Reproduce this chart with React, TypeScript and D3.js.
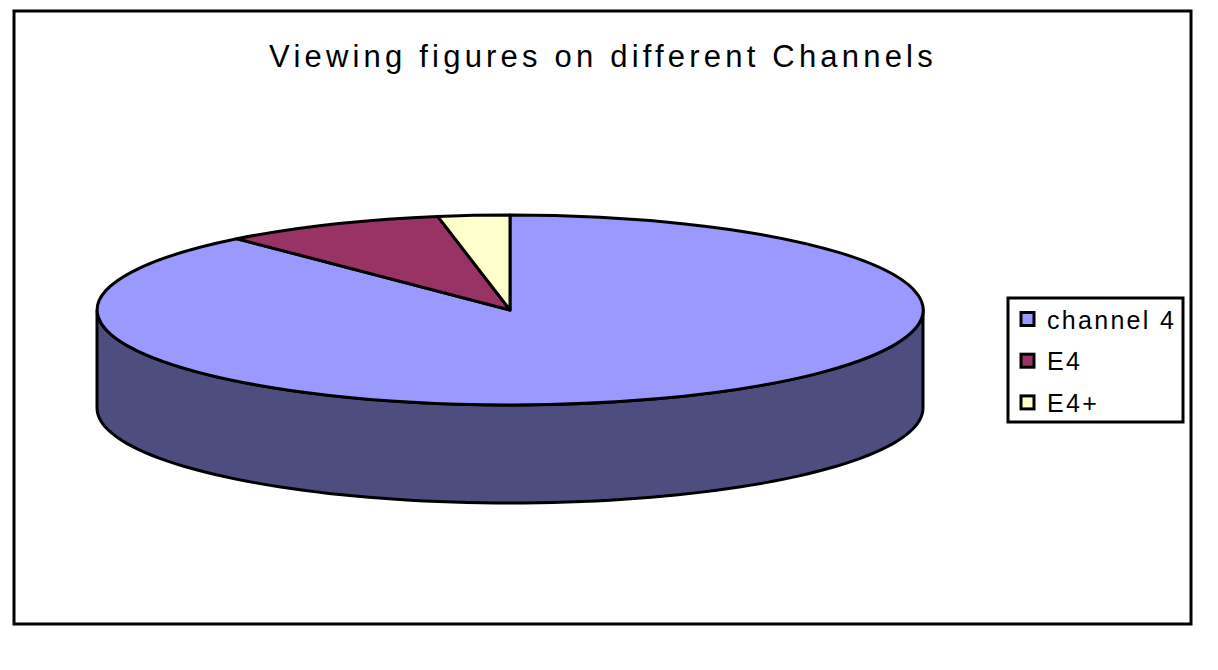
import * as d3 from "d3";

const categories = ["channel 4", "E4", "E4+"];
const shares = [88.5, 8.7, 2.8];
const colors = ["#9999ff", "#993366", "#ffffcc"];
const title = "Viewing figures on different Channels";

const width = 1218;
const height = 670;
const cx = 510;
const cy = 310;
const rx = 413;
const ry = 95;
const depth = 98;

// flattened pie: unit arc squashed onto the ellipse
const scaleX = d3.scaleLinear().domain([-1, 1]).range([cx - rx, cx + rx]);
const scaleY = d3.scaleLinear().domain([-1, 1]).range([cy - ry, cy + ry]);

export default function App() {
  const pie = d3.pie<number>().value((d) => d).sort(null);
  const slices = pie(shares);
  const arc = d3.arc<d3.PieArcDatum<number>>().innerRadius(0).outerRadius(1);

  // front wall runs along the lower half of the ellipse
  const lower = d3.range(90, 271, 2).map((deg) => (deg * Math.PI) / 180);
  const wallLine = d3.line<[number, number]>();
  const frontEdge: [number, number][] = lower.map((a) => [
    scaleX(Math.sin(a)),
    scaleY(-Math.cos(a)) + depth,
  ]);
  const topEdge: [number, number][] = lower
    .slice()
    .reverse()
    .map((a) => [scaleX(Math.sin(a)), scaleY(-Math.cos(a))]);
  const wall = wallLine([...frontEdge, ...topEdge]) + "Z";

  return (
    <svg
      width={width}
      height={height}
      style={{ position: "fixed", left: 0, top: 0, background: "#fff" }}
      fontFamily="'Liberation Sans', Arial, sans-serif"
    >
      <rect x={14} y={11} width={1177} height={613} fill="#fff" stroke="#000" strokeWidth={3} />

      <text
        x={603}
        y={67}
        textAnchor="middle"
        fontSize={31}
        letterSpacing={4.2}
        fill="#000"
      >
        {title}
      </text>

      {/* Pie */}
      <path d={wall} fill="#4d4d80" stroke="#000" strokeWidth={3} />
      <g transform={`translate(${cx},${cy}) scale(${rx},${ry})`}>
        {slices.map((s, i) => (
          <path
            key={i}
            d={arc(s) ?? ""}
            fill={colors[i]}
            stroke="#000"
            strokeWidth={3}
            vectorEffect="non-scaling-stroke"
            strokeLinejoin="round"
          />
        ))}
      </g>

      {/* Legend */}
      <rect x={1008} y={298} width={175} height={124} fill="#fff" stroke="#000" strokeWidth={3} />
      {categories.map((c, i) => (
        <g key={c} transform={`translate(0,${319 + i * 41.7})`}>
          <rect x={1021} y={-6.5} width={13} height={13} fill={colors[i]} stroke="#000" strokeWidth={3} />
          <text x={1047} y={9.5} fontSize={25} letterSpacing={2.3} fill="#000">
            {c}
          </text>
        </g>
      ))}
    </svg>
  );
}
